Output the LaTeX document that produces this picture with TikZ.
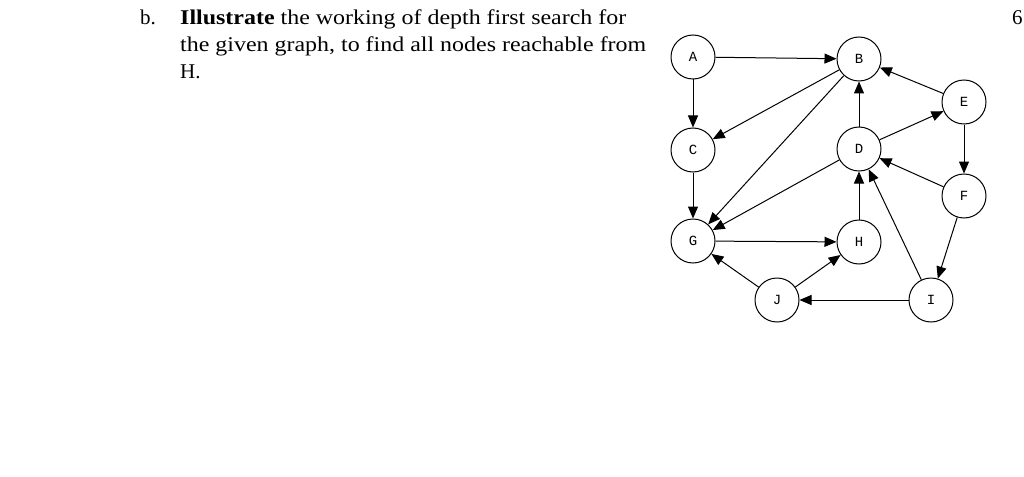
\documentclass[tikz,border=0pt]{standalone}
\usepackage{fontspec}
\setmainfont{Liberation Serif}
\newfontfamily\monof{Liberation Mono}
\usetikzlibrary{arrows.meta}
\begin{document}
\begin{tikzpicture}[x=1pt,y=-1pt,
  vert/.style={circle,draw,line width=1pt,minimum size=44pt,inner sep=0pt,font=\monof\fontsize{14}{14}\selectfont},
  edge/.style={draw,line width=1pt,-{Triangle[length=12pt,width=10pt]}},
  txt/.style={anchor=base west,inner sep=0pt,font=\fontsize{21}{24}\selectfont}]
\useasboundingbox (0,0) rectangle (1024,476);
\node[txt] (b) at (140,25) {b.};
\node[txt,xscale=1.14] (l1) at (180,25) {\textbf{Illustrate} the working of depth first search for};
\node[txt,xscale=1.14] (l2) at (180,52) {the given graph, to find all nodes reachable from};
\node[txt] (l3) at (180,79) {H.};
\node[txt] (six) at (1012,25) {6};
\node[vert] (A) at (693,57) {A};
\node[vert] (B) at (859,59) {B};
\node[vert] (E) at (964,102) {E};
\node[vert] (C) at (693,150) {C};
\node[vert] (D) at (859,149) {D};
\node[vert] (F) at (964,196) {F};
\node[vert] (G) at (693,241) {G};
\node[vert] (H) at (859,242) {H};
\node[vert] (J) at (777,300) {J};
\node[vert] (I) at (931,300) {I};
\foreach \a/\b in {A/B,A/C,B/C,B/G,E/B,D/B,D/E,E/F,C/G,D/G,F/D,F/I,I/D,H/D,G/H,I/J,J/G,J/H}
  \path[edge] (\a) -- (\b);
\end{tikzpicture}
\end{document}
